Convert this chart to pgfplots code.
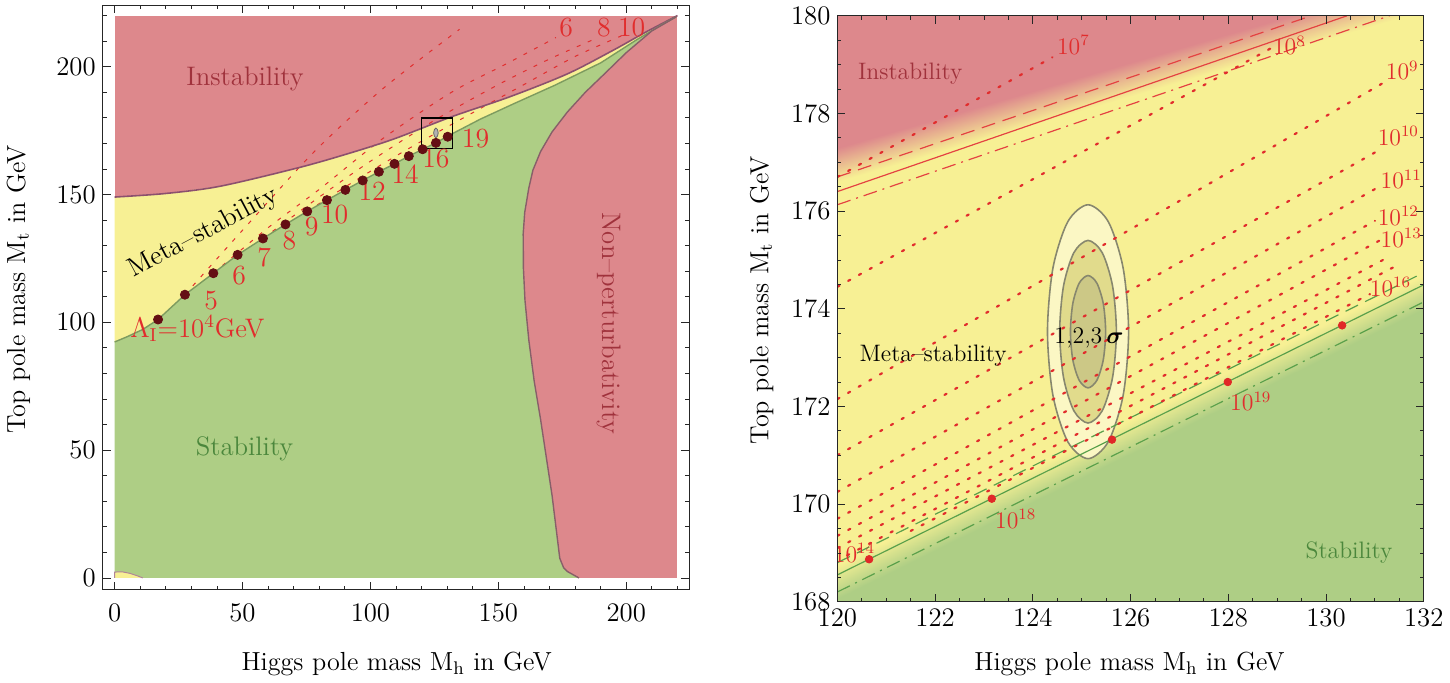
\documentclass[border=0pt]{standalone}
\usepackage{fontspec}
\usepackage{amsmath}
\usepackage{pgfplots}
\pgfplotsset{compat=1.18}
\definecolor{cRed}{RGB}{221,136,140}
\definecolor{cYel}{RGB}{247,240,148}
\definecolor{cGrn}{RGB}{174,206,133}
\definecolor{bInst}{RGB}{140,80,110}
\definecolor{bStab}{RGB}{125,155,95}
\definecolor{bNon}{RGB}{135,95,105}
\definecolor{tRed}{RGB}{160,50,60}
\definecolor{tGrn}{RGB}{75,135,60}
\definecolor{nRed}{RGB}{225,45,45}
\definecolor{dotL}{RGB}{100,15,20}
\definecolor{dotR}{RGB}{225,40,40}
\definecolor{lGrn}{RGB}{90,160,75}
\definecolor{ellG}{RGB}{135,135,110}
\newcommand\lbl{\fontsize{13.2}{15}\selectfont}
\newcommand\rl{\fontsize{13.5}{15}\selectfont}
\newcommand\rs{\fontsize{12}{14}\selectfont}
\pgfplotsset{myax/.style={scale only axis, anchor=south west, tick align=inside,
  major tick length=4pt, minor tick length=2pt, axis on top,
  axis line style={black!85, line width=0.5pt},
  every tick/.style={black!85, line width=0.4pt},
  tick label style={font=\fontsize{13.5}{15}\selectfont},
  /pgf/number format/assume math mode=true}}
\begin{document}
\begin{tikzpicture}[font=\lbl]
\path (0,0) rectangle (725pt,340.5pt);
% ---------------- LEFT PANEL ----------------
\begin{axis}[myax, at={(49pt,44.5pt)}, width=296pt, height=295pt,
  xmin=-4.66, xmax=224.66, ymin=-4.66, ymax=224.1,
  xtick={0,50,100,150,200}, ytick={0,50,100,150,200},
  minor xtick={0,10,...,220}, minor ytick={0,10,...,220},
  xticklabel style={yshift=-3.6pt}]
% instability background
\addplot[fill=cRed, draw=none] coordinates {(0,0) (220,0) (220,220) (0,220)};
% meta-stability
\addplot[fill=cYel, draw=none] coordinates {
 (0,149.0) (20,150.4) (41.1,153.2) (71.2,160.3) (90,165.6) (109.1,171.7) (131.7,180.4)
 (154.4,188.2) (177,197.2) (195,206.5) (207.2,213.3) (220,220)
 (219.5,219.5) (214,216.5) (204,210.5) (190,201.5) (172,192.7) (156,185.5) (143,179.5)
 (130.5,173) (125.6,170.2) (120.4,167.7) (115,165) (109.4,162) (103.3,158.9) (97,155.5)
 (90.2,151.8) (83,147.8) (75.3,143.4) (66.8,138.3) (58,132.8) (48.1,126.4) (38.6,119.2)
 (27.5,110.8) (17,101.1) (11,97.2) (5,94.4) (0,92.3)};
% stability
\addplot[fill=cGrn, draw=none] coordinates {
 (0,0) (0,92.3) (5,94.4) (11,97.2) (17,101.1) (27.5,110.8) (38.6,119.2) (48.1,126.4)
 (58,132.8) (66.8,138.3) (75.3,143.4) (83,147.8) (90.2,151.8) (97,155.5) (103.3,158.9)
 (109.4,162) (115,165) (120.4,167.7) (125.6,170.2) (130.5,173) (143,179.5) (156,185.5)
 (172,192.7) (190,201.5) (204,210.5) (214,216.5) (219.5,219.5)
 (210,214) (200,205.5) (192.1,197.8) (184,190) (177,182.3) (171,174.5) (166.5,166.8)
 (163.5,159.5) (161.9,152.5) (160.3,143) (159.7,134.5) (159.8,121) (160.4,108.6)
 (161.9,93.1) (164,77) (166.5,62) (171,32.2) (174,7.7) (175.5,4) (177,2.5) (181.5,0)};
% small yellow blob
\addplot[fill=cYel, draw=bInst!70, line width=0.5pt] coordinates {(0,0) (0,2.3) (3,2.4) (6,1.8) (9,0.8) (11,0)};
% Lambda contour dashed lines
\addplot[nRed, line width=0.5pt, dash pattern=on 2pt off 4pt, smooth] coordinates {(27.5,110.8) (50,136) (78.1,166.8) (105,191.5) (134.8,214.6)};
\addplot[nRed, line width=0.5pt, dash pattern=on 2pt off 4pt, smooth] coordinates {(38.6,119.2) (60,137) (80,152) (105,172) (131.7,190) (152.9,201) (172.5,211.4)};
\addplot[nRed, line width=0.5pt, dash pattern=on 2pt off 4pt, smooth] coordinates {(58,132.8) (80,149) (100,163) (125,179) (150,193) (170,203) (187.6,210.8)};
\addplot[nRed, line width=0.5pt, dash pattern=on 2pt off 4pt, smooth] coordinates {(75.3,143.4) (95,156) (115,168) (140,182) (160,193) (180,204) (198,212)};
% boundaries
\addplot[bInst, line width=0.8pt, smooth] coordinates {(0,149.0) (20,150.4) (41.1,153.2) (71.2,160.3) (90,165.6) (109.1,171.7) (131.7,180.4) (154.4,188.2) (177,197.2) (195,206.5) (207.2,213.3) (220,220)};
\addplot[bStab, line width=0.7pt] coordinates {(0,92.3) (5,94.4) (11,97.2) (17,101.1) (27.5,110.8) (38.6,119.2) (48.1,126.4)
 (58,132.8) (66.8,138.3) (75.3,143.4) (83,147.8) (90.2,151.8) (97,155.5) (103.3,158.9)
 (109.4,162) (115,165) (120.4,167.7) (125.6,170.2) (130.5,173) (143,179.5) (156,185.5)
 (172,192.7) (190,201.5) (204,210.5) (214,216.5) (219.5,219.5)};
\addplot[bNon, line width=0.7pt] coordinates {(219.5,219.5)
 (210,214) (200,205.5) (192.1,197.8) (184,190) (177,182.3) (171,174.5) (166.5,166.8)
 (163.5,159.5) (161.9,152.5) (160.3,143) (159.7,134.5) (159.8,121) (160.4,108.6)
 (161.9,93.1) (164,77) (166.5,62) (171,32.2) (174,7.7) (175.5,4) (177,2.5) (181.5,0)};
% dots
\addplot[only marks, mark=*, mark size=2.3pt, color=dotL] coordinates {
 (17.0,101.1) (27.5,110.8) (38.6,119.2) (48.1,126.4) (58.0,132.8) (66.8,138.3) (75.3,143.4)
 (83.0,147.8) (90.2,151.8) (97.0,155.5) (103.3,158.9) (109.4,162.0) (115.0,165.0)
 (120.4,167.7) (125.6,170.2) (130.2,172.6)};
% zoom box and ellipse
\addplot[fill=gray!60, draw=gray!80!black, line width=0.4pt, smooth cycle] coordinates {(126.5,174.1) (126.2,175.4) (125.6,176.0) (125.0,175.4) (124.7,174.1) (125.0,172.8) (125.6,172.2) (126.2,172.8)};
\addplot[black, line width=0.7pt] coordinates {(120,168) (132,168) (132,180) (120,180) (120,168)};
% labels
\node[font=\rl, text=tRed] at (axis cs:51,195.1) {Instability};
\node[font=\rl, rotate=28] at (axis cs:34.7,134.9) {Meta--stability};
\node[font=\rl, text=tGrn] at (axis cs:50.8,50.4) {Stability};
\node[font=\rl, text=tRed, rotate=-90] at (axis cs:193.2,99.6) {Non--perturbativity};
\node[font=\rl, text=nRed] at (axis cs:32.4,97.7) {$\Lambda_{\mathrm{I}}$=10\textsuperscript{4}GeV};
\begin{scope}[every node/.style={font=\fontsize{14}{15}\selectfont, text=nRed}]
\node at (axis cs:37.8,108.6) {5};
\node at (axis cs:48.7,118.3) {6};
\node at (axis cs:58.5,125.4) {7};
\node at (axis cs:68.3,131.9) {8};
\node at (axis cs:77.0,137.3) {9};
\node at (axis cs:86.0,142.3) {10};
\node at (axis cs:100.7,151.3) {12};
\node at (axis cs:113.6,158.0) {14};
\node at (axis cs:125.6,163.9) {16};
\node at (axis cs:141.1,171.7) {19};
\node at (axis cs:176.5,215.3) {6};
\node at (axis cs:191.3,215.3) {8};
\node at (axis cs:202.1,215.3) {10};
\end{scope}
\end{axis}
% ---------------- RIGHT PANEL ----------------
\begin{axis}[myax, at={(419.65pt,38.5pt)}, width=295.8pt, height=295.6pt,
  xmin=120, xmax=132, ymin=168, ymax=180,
  xtick={120,122,...,132}, ytick={168,170,...,180},
  minor xtick={120,120.5,...,132}, minor ytick={168,168.5,...,180},
  colormap={rgy}{rgb255=(221,136,140) rgb255=(247,240,148) rgb255=(174,206,133)},
  point meta min=0, point meta max=2]
\addplot[surf, shader=interp, point meta=explicit, mesh/cols=2, mesh/rows=6] table[meta=c] {
x y c
120 182 0
132 182 0
120 177.3 0
132 180.8 0
120 176.6 1
132 180.1 1
120 168.75 1
132 174.69 1
120 168.05 2
132 173.99 2
120 166 2
132 166 2
};
% ellipses
\addplot[fill=cYel!55!white, draw=ellG, line width=0.8pt, smooth cycle] coordinates {
 (125.96,173.53) (125.849,174.83) (125.545,175.782) (125.13,176.13) (124.715,175.782) (124.411,174.83)
 (124.30,173.53) (124.411,172.23) (124.715,171.278) (125.13,170.93) (125.545,171.278) (125.849,172.23)};
\addplot[fill=cYel!80!ellG, draw=ellG, line width=0.8pt, smooth cycle] coordinates {
 (125.71,173.53) (125.632,174.465) (125.42,175.149) (125.13,175.40) (124.84,175.149) (124.628,174.465)
 (124.55,173.53) (124.628,172.595) (124.84,171.911) (125.13,171.66) (125.42,171.911) (125.632,172.595)};
\addplot[fill=cYel!62!ellG, draw=ellG, line width=0.8pt, smooth cycle] coordinates {
 (125.49,173.53) (125.442,174.105) (125.31,174.526) (125.13,174.68) (124.95,174.526) (124.818,174.105)
 (124.77,173.53) (124.818,172.955) (124.95,172.534) (125.13,172.38) (125.31,172.534) (125.442,172.955)};
% instability boundary lines
\addplot[nRed!90, line width=0.6pt] coordinates {(120,176.4) (130.43,180)};
\addplot[nRed!90, line width=0.6pt, dash pattern=on 7pt off 4pt] coordinates {(120,176.7) (129.7,180)};
\addplot[nRed!90, line width=0.6pt, dash pattern=on 7pt off 3pt on 1pt off 3pt] coordinates {(120,176.13) (131.3,180)};
% stability boundary lines
\addplot[lGrn, line width=0.6pt] coordinates {(120,168.55) (132,174.49)};
\addplot[lGrn, line width=0.6pt, dash pattern=on 7pt off 4pt] coordinates {(120,168.8) (132,174.74)};
\addplot[lGrn, line width=0.6pt, dash pattern=on 7pt off 3pt on 1pt off 3pt] coordinates {(120,168.2) (132,174.14)};
% Lambda contours (dotted)
\begin{scope}[every path/.style={}]
\end{scope}
\pgfplotsset{cycle list={}}
\addplot[nRed, line width=1.1pt, line cap=round, dash pattern=on 1.2pt off 5pt] coordinates {(120,176.7) (124.4,179.15)};
\addplot[nRed, line width=1.1pt, line cap=round, dash pattern=on 1.2pt off 5pt] coordinates {(120,174.45) (128.9,179.35)};
\addplot[nRed, line width=1.1pt, line cap=round, dash pattern=on 1.2pt off 5pt] coordinates {(120,172.15) (131.3,178.7)};
\addplot[nRed, line width=1.1pt, line cap=round, dash pattern=on 1.2pt off 5pt] coordinates {(120,171.0) (131.0,177.2)};
\addplot[nRed, line width=1.1pt, line cap=round, dash pattern=on 1.2pt off 5pt] coordinates {(120,170.25) (131.0,176.45)};
\addplot[nRed, line width=1.1pt, line cap=round, dash pattern=on 1.2pt off 5pt] coordinates {(120,169.7) (131.0,175.8)};
\addplot[nRed, line width=1.1pt, line cap=round, dash pattern=on 1.2pt off 5pt] coordinates {(120,169.35) (131.1,175.4)};
\addplot[nRed, line width=1.1pt, line cap=round, dash pattern=on 1.2pt off 5pt] coordinates {(120,169.1) (131.3,175.07)};
\addplot[nRed, line width=1.1pt, line cap=round, dash pattern=on 1.2pt off 5pt] coordinates {(120.2,168.95) (131.4,174.86)};
\addplot[nRed, line width=1.1pt, line cap=round, dash pattern=on 1.2pt off 5pt] coordinates {(121.5,169.45) (130.9,174.3)};
% dots
\addplot[only marks, mark=*, mark size=1.9pt, color=dotR] coordinates {
 (120.65,168.87) (123.16,170.11) (125.62,171.32) (127.99,172.5) (130.33,173.66)};
% labels
\node[font=\rs, text=tRed] at (axis cs:121.49,178.81) {Instability};
\node[font=\rs] at (axis cs:121.96,173.03) {Meta--stability};
\node[font=\rs] at (axis cs:125.15,173.4) {1,2,3\,$\boldsymbol{\sigma}$};
\node[font=\rs, text=tGrn] at (axis cs:130.47,169.01) {Stability};
\begin{scope}[every node/.style={font=\rs, text=nRed}]
\node at (axis cs:124.83,179.41) {10\textsuperscript{7}};
\node at (axis cs:129.25,179.39) {10\textsuperscript{8}};
\node at (axis cs:131.56,178.88) {10\textsuperscript{9}};
\node at (axis cs:131.48,177.54) {10\textsuperscript{10}};
\node at (axis cs:131.54,176.65) {10\textsuperscript{11}};
\node at (axis cs:131.48,175.9) {10\textsuperscript{12}};
\node at (axis cs:131.54,175.45) {10\textsuperscript{13}};
\node at (axis cs:131.32,174.45) {10\textsuperscript{16}};
\node at (axis cs:120.35,169.0) {10\textsuperscript{14}};
\node at (axis cs:123.65,169.7) {10\textsuperscript{18}};
\node at (axis cs:128.46,172.1) {10\textsuperscript{19}};
\end{scope}
\end{axis}
% axis labels
\node[anchor=base] at (197.3pt,4pt) {Higgs pole mass M\textsubscript{h} in GeV};
\node[anchor=base] at (567pt,4pt) {Higgs pole mass M\textsubscript{h} in GeV};
\node[anchor=base, rotate=90] at (9.85pt,196pt) {Top pole mass M\textsubscript{t} in GeV};
\node[anchor=base, rotate=90] at (384.85pt,190.7pt) {Top pole mass M\textsubscript{t} in GeV};
\end{tikzpicture}
\end{document}
